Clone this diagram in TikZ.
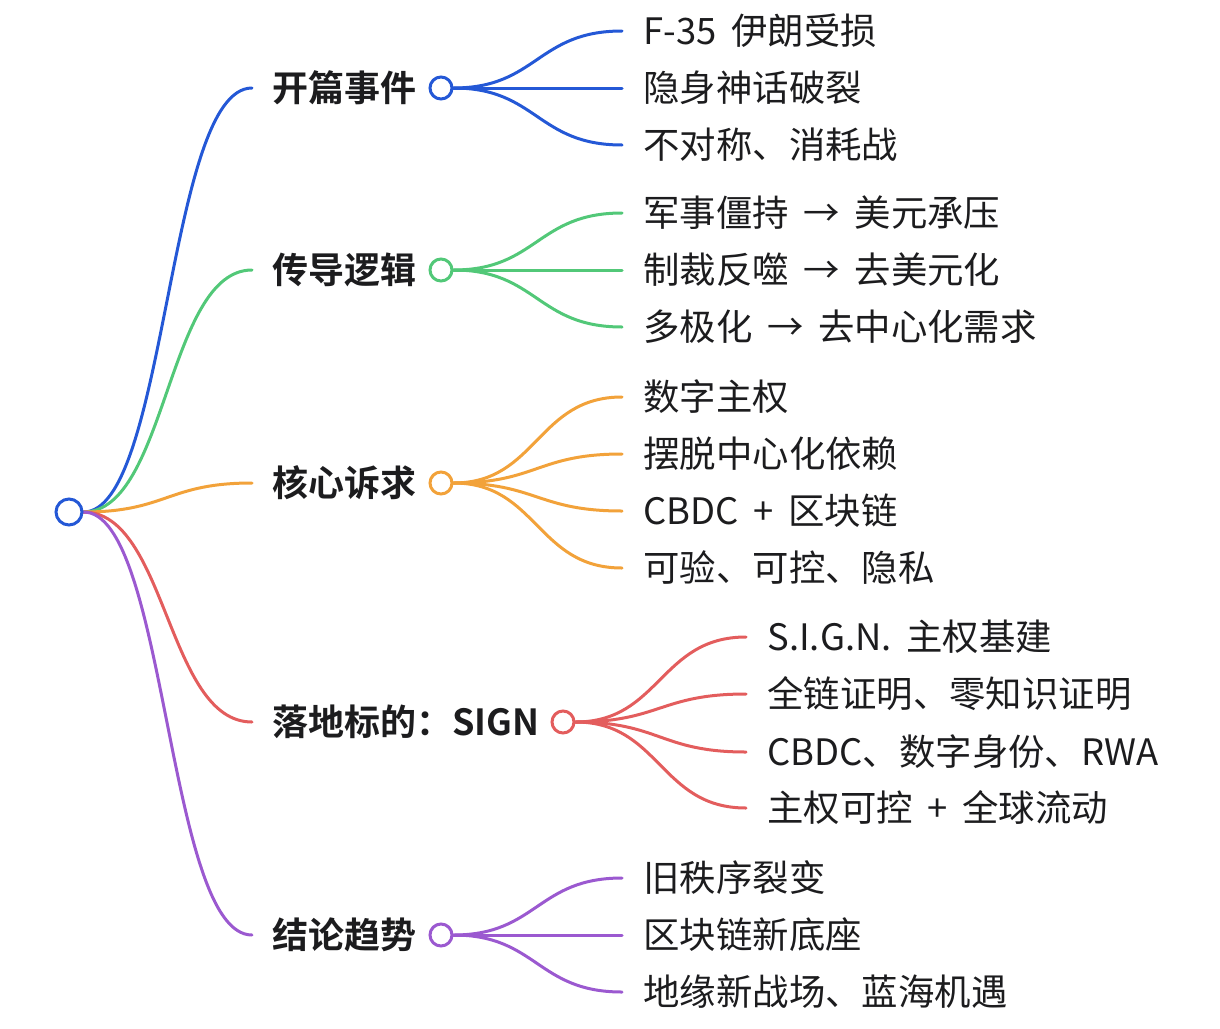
\documentclass[tikz,border=0pt]{standalone}
\usepackage{fontspec}
\setmainfont{Noto Sans CJK SC}[BoldFont={Noto Sans CJK SC Bold}]
\newfontfamily\leaffont{Noto Sans CJK SC}[WordSpace=1.8]
\usetikzlibrary{backgrounds}
\definecolor{cblue}{RGB}{36,88,214}
\definecolor{cgreen}{RGB}{82,200,120}
\definecolor{corange}{RGB}{242,162,58}
\definecolor{cred}{RGB}{227,93,93}
\definecolor{cpurple}{RGB}{155,89,208}
\definecolor{ctext}{RGB}{28,28,30}
\begin{document}
\begin{tikzpicture}[x=0.5pt,y=-0.5pt,
  lk/.style={line width=1.5pt, line cap=round},
  rootnode/.style={circle, draw, line width=1.5pt, fill=white, minimum size=13pt, inner sep=0pt},
  knot/.style={circle, draw, line width=1.5pt, fill=white, minimum size=11pt, inner sep=0pt},
  mainlabel/.style={anchor=west, inner sep=0pt, font=\fontsize{18pt}{20pt}\selectfont\bfseries, text=ctext},
  leaf/.style={anchor=west, inner sep=0pt, font=\leaffont\fontsize{18.2pt}{20pt}\selectfont, text=ctext}]
\useasboundingbox (0,0) rectangle (1220,1028);

% root
\node[rootnode, draw=cblue] (root) at (69,512) {};

% level 1 labels and knots
\node[mainlabel] (b1) at (272,88) {开篇事件};
\node[knot, draw=cblue] (k1) at (441,88) {};
\node[mainlabel] (b2) at (272,270) {传导逻辑};
\node[knot, draw=cgreen] (k2) at (441,270) {};
\node[mainlabel] (b3) at (272,483) {核心诉求};
\node[knot, draw=corange] (k3) at (441,483) {};
\node[mainlabel] (b4) at (272,722) {落地标的：SIGN};
\node[knot, draw=cred] (k4) at (563,722) {};
\node[mainlabel] (b5) at (272,935) {结论趋势};
\node[knot, draw=cpurple] (k5) at (441,935) {};

% leaves
\node[leaf] (l11) at (643,31) {F-35 伊朗受损};
\node[leaf] (l12) at (643,88) {隐身神话破裂};
\node[leaf] (l13) at (643,145) {不对称、消耗战};
\node[leaf] (l21) at (643,213) {军事僵持 → 美元承压};
\node[leaf] (l22) at (643,270) {制裁反噬 → 去美元化};
\node[leaf] (l23) at (643,327) {多极化 → 去中心化需求};
\node[leaf] (l31) at (643,397) {数字主权};
\node[leaf] (l32) at (643,454) {摆脱中心化依赖};
\node[leaf] (l33) at (643,511) {CBDC + 区块链};
\node[leaf] (l34) at (643,568) {可验、可控、隐私};
\node[leaf] (l41) at (767,637) {S.I.G.N. 主权基建};
\node[leaf] (l42) at (767,694) {全链证明、零知识证明};
\node[leaf] (l43) at (767,752) {CBDC、数字身份、RWA};
\node[leaf] (l44) at (767,808) {主权可控 + 全球流动};
\node[leaf] (l51) at (643,878) {旧秩序裂变};
\node[leaf] (l52) at (643,935) {区块链新底座};
\node[leaf] (l53) at (643,992) {地缘新战场、蓝海机遇};

\begin{scope}[on background layer]
% root to level 1
\draw[lk, cblue]   (root.east) .. controls (167,512) and (167,88)  .. ([xshift=-10pt]b1.west);
\draw[lk, cgreen]  (root.east) .. controls (167,512) and (167,270) .. ([xshift=-10pt]b2.west);
\draw[lk, corange] (root.east) .. controls (167,512) and (167,483) .. ([xshift=-10pt]b3.west);
\draw[lk, cred]    (root.east) .. controls (167,512) and (167,722) .. ([xshift=-10pt]b4.west);
\draw[lk, cpurple] (root.east) .. controls (167,512) and (167,935) .. ([xshift=-10pt]b5.west);
% branch 1
\draw[lk, cblue] (k1.east) .. controls (537,88) and (537,31)  .. ([xshift=-10.5pt]l11.west);
\draw[lk, cblue] (k1.east) -- ([xshift=-10.5pt]l12.west);
\draw[lk, cblue] (k1.east) .. controls (537,88) and (537,145) .. ([xshift=-10.5pt]l13.west);
% branch 2
\draw[lk, cgreen] (k2.east) .. controls (537,270) and (537,213) .. ([xshift=-10.5pt]l21.west);
\draw[lk, cgreen] (k2.east) -- ([xshift=-10.5pt]l22.west);
\draw[lk, cgreen] (k2.east) .. controls (537,270) and (537,327) .. ([xshift=-10.5pt]l23.west);
% branch 3
\draw[lk, corange] (k3.east) .. controls (537,483) and (537,397) .. ([xshift=-10.5pt]l31.west);
\draw[lk, corange] (k3.east) .. controls (537,483) and (537,454) .. ([xshift=-10.5pt]l32.west);
\draw[lk, corange] (k3.east) .. controls (537,483) and (537,511) .. ([xshift=-10.5pt]l33.west);
\draw[lk, corange] (k3.east) .. controls (537,483) and (537,568) .. ([xshift=-10.5pt]l34.west);
% branch 4
\draw[lk, cred] (k4.east) .. controls (660,722) and (660,637) .. ([xshift=-10.5pt]l41.west);
\draw[lk, cred] (k4.east) .. controls (660,722) and (660,694) .. ([xshift=-10.5pt]l42.west);
\draw[lk, cred] (k4.east) .. controls (660,722) and (660,752) .. ([xshift=-10.5pt]l43.west);
\draw[lk, cred] (k4.east) .. controls (660,722) and (660,808) .. ([xshift=-10.5pt]l44.west);
% branch 5
\draw[lk, cpurple] (k5.east) .. controls (537,935) and (537,878) .. ([xshift=-10.5pt]l51.west);
\draw[lk, cpurple] (k5.east) -- ([xshift=-10.5pt]l52.west);
\draw[lk, cpurple] (k5.east) .. controls (537,935) and (537,992) .. ([xshift=-10.5pt]l53.west);
\end{scope}
\end{tikzpicture}
\end{document}
